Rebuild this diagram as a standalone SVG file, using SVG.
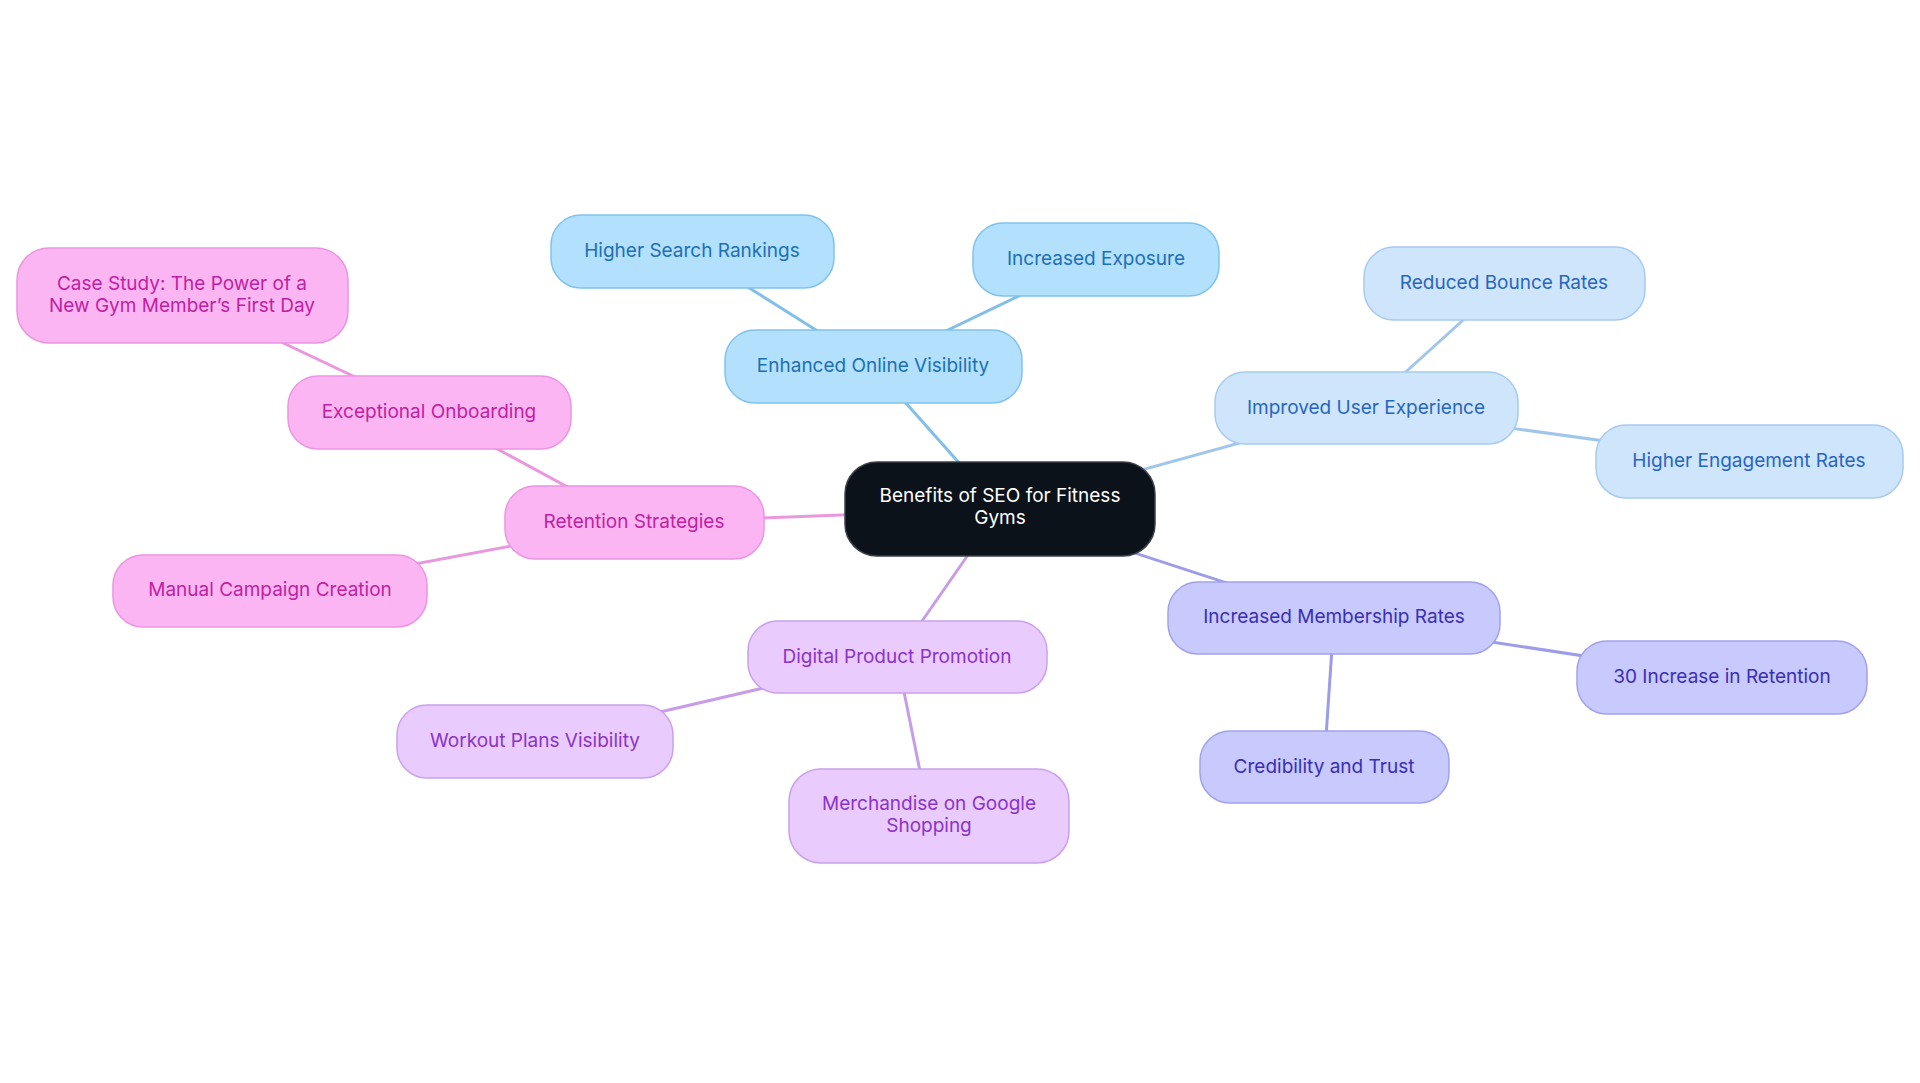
<svg xmlns="http://www.w3.org/2000/svg" width="1920" height="1083" viewBox="0 0 1920 1083">
<style>
.t{font-family:Inter,"Noto Sans","Liberation Sans",sans-serif;font-size:19px;text-anchor:middle;dominant-baseline:central}
.c0 rect{fill:#0c121a;stroke:#3b4047;stroke-width:1.5}
.c0 text{fill:#ffffff}
.b1 rect{fill:#b3e0fd;stroke:#80c2ee;stroke-width:1.5}
.b1 text{fill:#1c70b4}
.b2 rect{fill:#cfe5fb;stroke:#a6caf0;stroke-width:1.5}
.b2 text{fill:#2766c0}
.b3 rect{fill:#c8c9fc;stroke:#a0a1ee;stroke-width:1.5}
.b3 text{fill:#3a2eb6}
.b4 rect{fill:#eacbfd;stroke:#caa0ec;stroke-width:1.5}
.b4 text{fill:#8b33c8}
.b5 rect{fill:#fcb5f3;stroke:#ec94e2;stroke-width:1.5}
.b5 text{fill:#c021a0}
#edges line{stroke-width:3;fill:none}
.e1{stroke:#7fbfe8}
.e2{stroke:#a0c6ee}
.e3{stroke:#9c9ce9}
.e4{stroke:#c79de8}
.e5{stroke:#ea98de}
</style>
<rect width="1920" height="1083" fill="#ffffff"/>
<g id="edges">
<line class="e1" x1="1000" y1="509" x2="873" y2="366"/>
<line class="e1" x1="873" y1="366" x2="692" y2="252"/>
<line class="e1" x1="873" y1="366" x2="1096" y2="259"/>
<line class="e2" x1="1000" y1="509" x2="1366" y2="408"/>
<line class="e2" x1="1366" y1="408" x2="1504" y2="283"/>
<line class="e2" x1="1366" y1="408" x2="1749" y2="461"/>
<line class="e3" x1="1000" y1="509" x2="1334" y2="618"/>
<line class="e3" x1="1334" y1="618" x2="1722" y2="677"/>
<line class="e3" x1="1334" y1="618" x2="1324" y2="767"/>
<line class="e4" x1="1000" y1="509" x2="897" y2="657"/>
<line class="e4" x1="897" y1="657" x2="535" y2="741"/>
<line class="e4" x1="897" y1="657" x2="929" y2="816"/>
<line class="e5" x1="1000" y1="509" x2="634" y2="523"/>
<line class="e5" x1="634" y1="523" x2="429" y2="412"/>
<line class="e5" x1="634" y1="523" x2="270" y2="591"/>
<line class="e5" x1="429" y1="412" x2="182" y2="295"/>
</g>
<g id="n-center" class="c0"><rect x="845" y="462" width="310" height="94" rx="32"/><text class="t" x="1000" y="495">Benefits of SEO for Fitness</text><text class="t" x="1000" y="517">Gyms</text></g>
<g id="n-visibility" class="b1"><rect x="725" y="330" width="297" height="73" rx="30"/><text class="t" x="873" y="365">Enhanced Online Visibility</text></g>
<g id="n-rankings" class="b1"><rect x="551" y="215" width="283" height="73" rx="30"/><text class="t" x="692" y="250">Higher Search Rankings</text></g>
<g id="n-exposure" class="b1"><rect x="973" y="223" width="246" height="73" rx="30"/><text class="t" x="1096" y="258">Increased Exposure</text></g>
<g id="n-ux" class="b2"><rect x="1215" y="372" width="303" height="72" rx="30"/><text class="t" x="1366" y="407">Improved User Experience</text></g>
<g id="n-bounce" class="b2"><rect x="1364" y="247" width="281" height="73" rx="30"/><text class="t" x="1504" y="282">Reduced Bounce Rates</text></g>
<g id="n-engagement" class="b2"><rect x="1596" y="425" width="307" height="73" rx="30"/><text class="t" x="1749" y="460">Higher Engagement Rates</text></g>
<g id="n-membership" class="b3"><rect x="1168" y="582" width="332" height="72" rx="30"/><text class="t" x="1334" y="616">Increased Membership Rates</text></g>
<g id="n-retention30" class="b3"><rect x="1577" y="641" width="290" height="73" rx="30"/><text class="t" x="1722" y="676">30 Increase in Retention</text></g>
<g id="n-credibility" class="b3"><rect x="1200" y="731" width="249" height="72" rx="30"/><text class="t" x="1324" y="766">Credibility and Trust</text></g>
<g id="n-digital" class="b4"><rect x="748" y="621" width="299" height="72" rx="30"/><text class="t" x="897" y="656">Digital Product Promotion</text></g>
<g id="n-workout" class="b4"><rect x="397" y="705" width="276" height="73" rx="30"/><text class="t" x="535" y="740">Workout Plans Visibility</text></g>
<g id="n-merch" class="b4"><rect x="789" y="769" width="280" height="94" rx="32"/><text class="t" x="929" y="803">Merchandise on Google</text><text class="t" x="929" y="825">Shopping</text></g>
<g id="n-retention" class="b5"><rect x="505" y="486" width="259" height="73" rx="30"/><text class="t" x="634" y="521">Retention Strategies</text></g>
<g id="n-onboarding" class="b5"><rect x="288" y="376" width="283" height="73" rx="30"/><text class="t" x="429" y="411">Exceptional Onboarding</text></g>
<g id="n-manual" class="b5"><rect x="113" y="555" width="314" height="72" rx="30"/><text class="t" x="270" y="589">Manual Campaign Creation</text></g>
<g id="n-case" class="b5"><rect x="17" y="248" width="331" height="95" rx="32"/><text class="t" x="182" y="283">Case Study: The Power of a</text><text class="t" x="182" y="305">New Gym Member’s First Day</text></g>
</svg>
